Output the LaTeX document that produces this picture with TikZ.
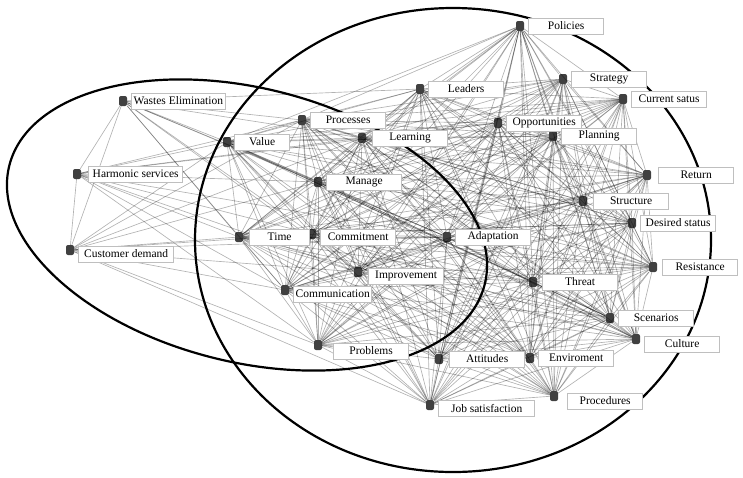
\documentclass[tikz,border=0pt]{standalone}
\usepackage{fontspec}
\setmainfont{Liberation Serif}
\usetikzlibrary{positioning}
\begin{document}
\begin{tikzpicture}[
    x=1pt, y=-1pt,
    hub/.style={rectangle, rounded corners=2pt, fill=black!75, minimum width=8pt, minimum height=10pt, inner sep=0pt},
    lbl/.style={draw=black!25, line width=0.9pt, fill=white, minimum width=75pt, minimum height=16pt, inner sep=2pt, font=\fontsize{11.5}{13}\selectfont},
    link/.style={draw=black, opacity=0.3, line width=0.65pt},
    ring/.style={draw=black, line width=2.2pt}
  ]
  \useasboundingbox (0,0) rectangle (743,477);
  \foreach \n/\x/\y in {pol/520/26, strat/563/79, cursat/623/99, lead/420/89, opp/498/123,
      plan/553/136, ret/647/175, struct/583/201, desir/632/223, resist/653/267,
      adapt/447/237, threat/533/282, scen/610/318, cult/636/339, attit/439/359,
      envir/530/358, procd/554/396, jobsat/430/405, probl/318/345, comm/285/290,
      impr/358/272, commit/312/234, time/239/237, manage/318/182, value/227/142,
      procs/302/120, learn/362/138, waste/123/101, harmon/77/174, custd/70/250}
    \node[hub] (\n) at (\x,\y) {};

  \def\core{pol,strat,cursat,lead,opp,plan,ret,struct,desir,resist,adapt,threat,scen,cult,
    attit,envir,procd,jobsat,probl,comm,impr,commit,time,manage,value,procs,learn}
  \foreach \a [count=\i] in \core {
    \foreach \b [count=\j] in \core {
      \ifnum\i<\j \draw[link] (\a) -- (\b); \fi
    }
  }
  \foreach \a/\bs in {waste/{harmon,custd,value,procs,learn,manage,time,commit,impr,comm,adapt,lead},
      harmon/{custd,value,procs,manage,time,commit,impr,comm,probl,adapt,learn,opp},
      custd/{value,procs,manage,time,commit,impr,comm,probl,adapt,learn,jobsat}}
    \foreach \b in \bs \draw[link] (\a) -- (\b);

  \draw[ring] (453,240) ellipse [x radius=258pt, y radius=232pt];
  \begin{scope}[shift={(247,225)}, rotate=-14]
    \draw[ring] (0,0) ellipse [x radius=245pt, y radius=137pt];
  \end{scope}

  \node[lbl, right=4pt of pol] (polL) {Policies};
  \node[lbl, right=4pt of strat] (stratL) {Strategy};
  \node[lbl, right=4pt of cursat] (cursatL) {Current satus};
  \node[lbl, right=4pt of lead] (leadL) {Leaders};
  \node[lbl, right=4pt of opp] (oppL) {Opportunities};
  \node[lbl, right=4pt of plan] (planL) {Planning};
  \node[lbl, right=7pt of ret] (retL) {Return};
  \node[lbl, right=6pt of struct] (structL) {Structure};
  \node[lbl, right=4pt of desir] (desirL) {Desired status};
  \node[lbl, right=5pt of resist] (resistL) {Resistance};
  \node[lbl, right=4pt of adapt] (adaptL) {Adaptation};
  \node[lbl, right=5pt of threat] (threatL) {Threat};
  \node[lbl, right=4pt of scen] (scenL) {Scenarios};
  \node[lbl, right=4pt of cult, yshift=-5pt] (cultL) {Culture};
  \node[lbl, right=6pt of attit] (attitL) {Attitudes};
  \node[lbl, right=4pt of envir] (envirL) {Enviroment};
  \node[lbl, right=9pt of procd, yshift=-5pt] (procdL) {Procedures};
  \node[lbl, right=4pt of jobsat, minimum width=96pt, yshift=-3pt] (jobsatL) {Job satisfaction};
  \node[lbl, right=11pt of probl, yshift=-6pt] (problL) {Problems};
  \node[lbl, right=4pt of comm, yshift=-4pt] (commL) {Communication};
  \node[lbl, right=6pt of impr, yshift=-4pt] (imprL) {Improvement};
  \node[lbl, right=4pt of commit, yshift=-3pt] (commitL) {Commitment};
  \node[lbl, right=6pt of time, minimum width=60pt] (timeL) {Time};
  \node[lbl, right=3pt of value, minimum width=55pt] (valueL) {Value};
  \node[lbl, right=4pt of manage] (manageL) {Manage};
  \node[lbl, right=4pt of procs] (procsL) {Processes};
  \node[lbl, right=6pt of learn] (learnL) {Learning};
  \node[lbl, right=4pt of waste, minimum width=93pt] (wasteL) {Wastes Elimination};
  \node[lbl, right=7pt of harmon, minimum width=94pt] (harmonL) {Harmonic services};
  \node[lbl, right=4pt of custd, minimum width=95pt, yshift=-4pt] (custdL) {Customer demand};
\end{tikzpicture}
\end{document}
